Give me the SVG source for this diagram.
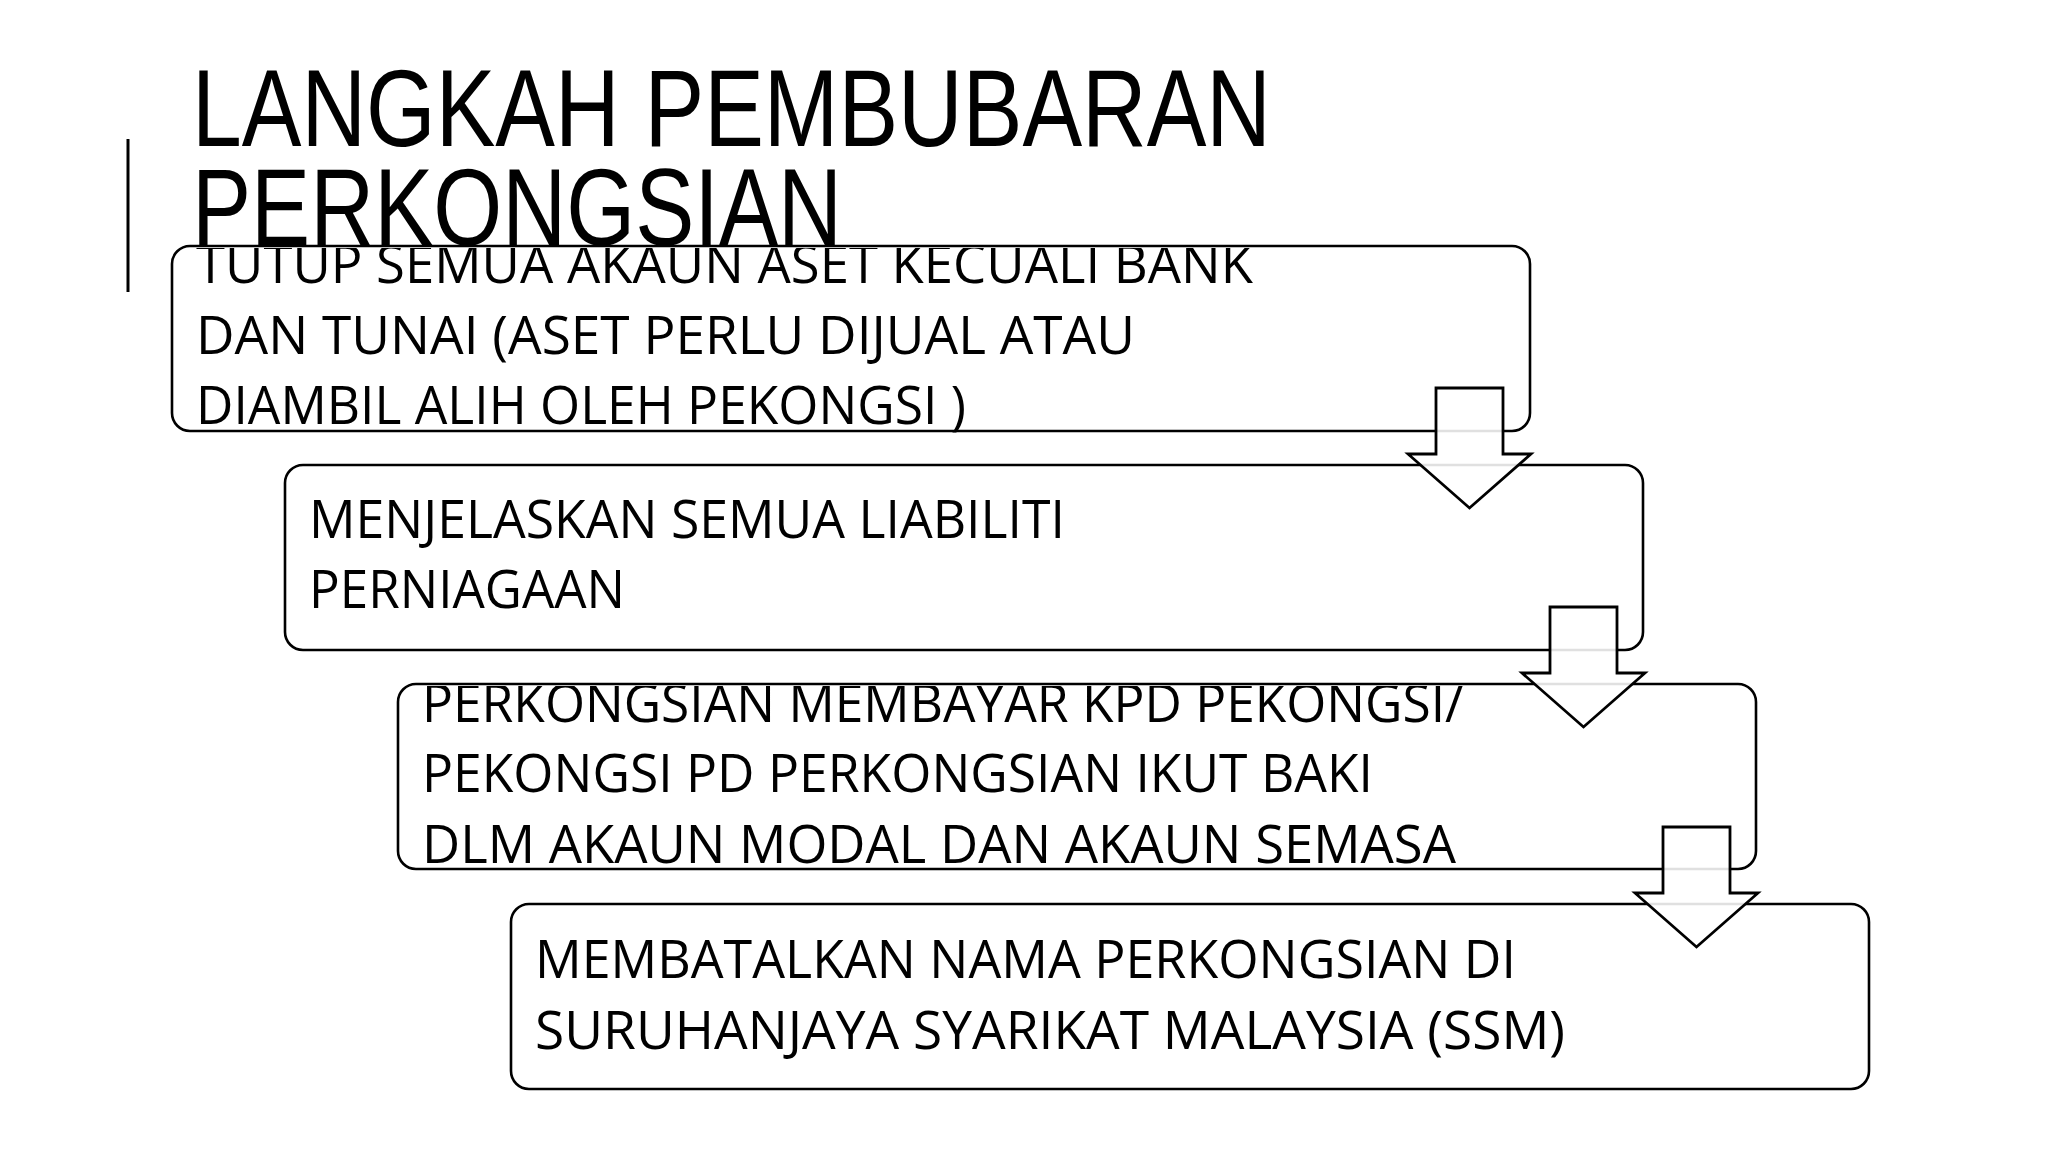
<svg xmlns="http://www.w3.org/2000/svg" width="2048" height="1152" viewBox="0 0 2048 1152">
  <style>
    .box { fill: #ffffff; stroke: #000000; stroke-width: 2.6; }
    .arrow { fill: #ffffff; fill-opacity: 0.88; stroke: #000000; stroke-width: 2.8; stroke-linejoin: miter; }
    .title { font-family: "Liberation Sans", Arial, sans-serif; font-size: 110px; fill: #000000; }
    .body { font-family: "Open Sans", "Noto Sans", sans-serif; font-size: 53px; fill: #000000; }
  </style>
  <defs>
    <path id="downArrow" d="M0,0 H67 V66 H95 L33.5,120 L-28,66 H0 Z"/>
    <clipPath id="clip1"><rect x="172" y="248" width="1358" height="186"/></clipPath>
    <clipPath id="clip3"><rect x="398" y="686" width="1358" height="186"/></clipPath>
  </defs>
  <rect width="2048" height="1152" fill="#ffffff"/>

  <line x1="128" y1="139" x2="128" y2="292" stroke="#000000" stroke-width="3"/>

  <g id="node1">
    <rect class="box" x="172" y="246" width="1358" height="185" rx="18"/>
    <g clip-path="url(#clip1)">
      <text class="body" x="196" y="283" textLength="1057" lengthAdjust="spacingAndGlyphs">TUTUP SEMUA AKAUN ASET KECUALI BANK</text>
      <text class="body" x="196" y="354" textLength="939" lengthAdjust="spacingAndGlyphs">DAN TUNAI (ASET PERLU DIJUAL ATAU</text>
      <text class="body" x="196" y="424" textLength="770" lengthAdjust="spacingAndGlyphs">DIAMBIL ALIH OLEH PEKONGSI )</text>
    </g>
  </g>

  <g id="node2">
    <rect class="box" x="285" y="465" width="1358" height="185" rx="18"/>
    <text class="body" x="309" y="538" textLength="756" lengthAdjust="spacingAndGlyphs">MENJELASKAN SEMUA LIABILITI</text>
    <text class="body" x="309" y="608" textLength="316" lengthAdjust="spacingAndGlyphs">PERNIAGAAN</text>
  </g>

  <g id="node3">
    <rect class="box" x="398" y="684" width="1358" height="185" rx="18"/>
    <g clip-path="url(#clip3)">
      <text class="body" x="422" y="722" textLength="1042" lengthAdjust="spacingAndGlyphs">PERKONGSIAN MEMBAYAR KPD PEKONGSI/</text>
    </g>
    <text class="body" x="422" y="792" textLength="951" lengthAdjust="spacingAndGlyphs">PEKONGSI PD PERKONGSIAN IKUT BAKI</text>
    <text class="body" x="422" y="863" textLength="1034" lengthAdjust="spacingAndGlyphs">DLM AKAUN MODAL DAN AKAUN SEMASA</text>
  </g>

  <g id="node4">
    <rect class="box" x="511" y="904" width="1358" height="185" rx="18"/>
    <text class="body" x="535" y="978" textLength="981" lengthAdjust="spacingAndGlyphs">MEMBATALKAN NAMA PERKONGSIAN DI</text>
    <text class="body" x="535" y="1049" textLength="1030" lengthAdjust="spacingAndGlyphs">SURUHANJAYA SYARIKAT MALAYSIA (SSM)</text>
  </g>

  <g id="connectors">
    <use href="#downArrow" class="arrow" x="1436" y="388"/>
    <use href="#downArrow" class="arrow" x="1550" y="607"/>
    <use href="#downArrow" class="arrow" x="1663" y="827"/>
  </g>

  <g id="title">
    <text class="title" x="192" y="146" textLength="1079" lengthAdjust="spacingAndGlyphs">LANGKAH PEMBUBARAN</text>
    <text class="title" x="192" y="245" textLength="650" lengthAdjust="spacingAndGlyphs">PERKONGSIAN</text>
  </g>
</svg>
